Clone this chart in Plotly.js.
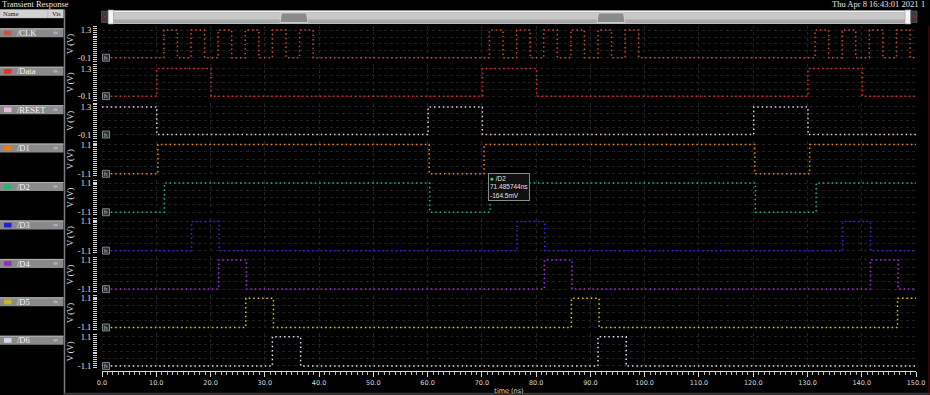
<!DOCTYPE html>
<html>
<head>
<meta charset="utf-8">
<script src="https://cdn.plot.ly/plotly-3.0.1.min.js"></script>
<style>
html,body{margin:0;padding:0;background:#000;}
#chart{width:930px;height:395px;}
</style>
</head>
<body>
<div id="chart"></div>
<script>
// ---------- data ----------
const signalNames = ['/CLK', '/Data', '/RESET', '/D1', '/D2', '/D3', '/D4', '/D5', '/D6'];
const topTickLabels = ['1.3', '1.3', '1.3', '1.1', '1.1', '1.1', '1.1', '1.1', '1.1'];
const bottomTickLabels = ['-0.1', '-0.1', '-0.1', '-1.1', '-1.1', '-1.1', '-1.1', '-1.1', '-1.1'];
const xTickValues = [0, 10, 20, 30, 40, 50, 60, 70, 80, 90, 100, 110, 120, 130, 140, 150];

const clkTime = [0, 11.4, 13.9, 16.4, 18.9, 21.4, 23.9, 26.4, 28.9, 31.4, 33.9, 36.4, 38.9,
                 71.4, 73.9, 76.4, 78.9, 81.4, 83.9, 86.4, 88.9, 91.4, 93.9, 96.4, 98.9,
                 131.4, 133.9, 136.4, 138.9, 141.4, 143.9, 146.4, 148.9, 150];
const clkVolt = [-0.1, 1.3, -0.1, 1.3, -0.1, 1.3, -0.1, 1.3, -0.1, 1.3, -0.1, 1.3, -0.1,
                 1.3, -0.1, 1.3, -0.1, 1.3, -0.1, 1.3, -0.1, 1.3, -0.1, 1.3, -0.1,
                 1.3, -0.1, 1.3, -0.1, 1.3, -0.1, 1.3, -0.1, -0.1];
const dataTime = [0, 10.1, 20.1, 70.1, 80.1, 130.1, 140.1, 150];
const dataVolt = [-0.1, 1.3, -0.1, 1.3, -0.1, 1.3, -0.1, -0.1];
const resetTime = [0, 10.1, 60.1, 70.1, 120.1, 130.1, 150];
const resetVolt = [1.3, -0.1, 1.3, -0.1, 1.3, -0.1, -0.1];
const d1Time = [0, 10.3, 60.3, 70.4, 120.3, 130.4, 150];
const d1Volt = [-1.1, 1.1, -1.1, 1.1, -1.1, 1.1, 1.1];
const d2Time = [0, 11.5, 60.4, 71.5, 120.4, 131.6, 150];
const d2Volt = [-1.1, 1.1, -1.1, 1.1, -1.1, 1.1, 1.1];
const d3Time = [0, 16.5, 21.6, 76.5, 81.6, 136.5, 141.6, 150];
const d3Volt = [-1.1, 1.1, -1.1, 1.1, -1.1, 1.1, -1.1, -1.1];
const d4Time = [0, 21.5, 26.6, 81.5, 86.6, 141.6, 146.7, 150];
const d4Volt = [-1.1, 1.1, -1.1, 1.1, -1.1, 1.1, -1.1, -1.1];
const d5Time = [0, 26.5, 31.6, 86.5, 91.6, 146.6, 150];
const d5Volt = [-1.1, 1.1, -1.1, 1.1, -1.1, 1.1, 1.1];
const d6Time = [0, 31.4, 36.6, 91.4, 96.6, 150];
const d6Volt = [-1.1, 1.1, -1.1, 1.1, -1.1, -1.1];

const cursorTime = 71.485744;
const cursorVolt = -0.1645;
const cursorText = ['/D2', '71.485744ns', '-164.5mV'];

// ---------- styling ----------
const signalColors = ['#d24a2a', '#e82a2a', '#eac2ea', '#f08a1e', '#1fba74', '#2a2af2', '#a232e2', '#d8c81e', '#d8e0f8'];
const swatchColors = ['#c05a48', '#e03030', '#ecb8dc', '#e08020', '#30b070', '#2020d0', '#9030c0', '#c8b820', '#d0d8f0'];
const times = [clkTime, dataTime, resetTime, d1Time, d2Time, d3Time, d4Time, d5Time, d6Time];
const volts = [clkVolt, dataVolt, resetVolt, d1Volt, d2Volt, d3Volt, d4Volt, d5Volt, d6Volt];

const ML = 102, MR = 14, MT = 24, MB = 24, W = 930, H = 395;
const PW = W - ML - MR, PH = H - MT - MB;
const fx = p => (p - ML) / PW;
const fy = p => (H - MB - p) / PH;
const centers = signalNames.map((_, i) => 43.9 + 38.43 * i);
const HALF = 18;

const traces = [];
const layout = {
  width: W, height: H,
  margin: {l: ML, r: MR, t: MT, b: MB, pad: 0},
  paper_bgcolor: '#000', plot_bgcolor: '#000',
  showlegend: false,
  font: {family: 'Liberation Serif', color: '#e0e0e0', size: 9},
  xaxis: {
    range: [0, 150], anchor: 'free', position: 0,
    showline: true, linecolor: '#d8d8d8', linewidth: 1,
    ticks: 'outside', ticklen: 5, tickcolor: '#d8d8d8',
    tickmode: 'array', tickvals: xTickValues, tickformat: '.1f',
    tickfont: {family: 'DejaVu Sans', size: 6.5, color: '#d8d8d8'},
    minor: {ticks: 'outside', ticklen: 3, tickmode: 'linear', tick0: 0, dtick: 1, tickcolor: '#bbbbbb', showgrid: false},
    showgrid: true, gridcolor: '#222222', griddash: 'dot', gridwidth: 1,
    zeroline: false,
    title: {text: 'time (ns)', font: {family: 'DejaVu Sans', size: 6.5, color: '#d8d8d8'}, standoff: 2}
  },
  shapes: [], annotations: []
};

signalNames.forEach((name, i) => {
  const c = centers[i];
  const isLogic = i < 3;
  const lo = isLogic ? -0.1 : -1.1, hi = isLogic ? 1.3 : 1.1;
  const amp = isLogic ? 13.8 : 14.6;
  const k = (2 * amp) / (hi - lo);
  const mid = (hi + lo) / 2;
  const half = HALF / k;
  const axName = i === 0 ? 'yaxis' : 'yaxis' + (i + 1);
  const ref = i === 0 ? 'y' : 'y' + (i + 1);
  const step = (hi - lo) / 4;
  // dense ruler tick marks along the strip
  const rulerStep = isLogic ? 0.1 : 0.15;
  const rulerVals = [], rulerText = [];
  for (let v = lo - 2 * rulerStep; v <= mid + half + 1e-9; v += rulerStep) {
    const r = Math.round(v * 1000) / 1000;
    if (r < mid - half) continue;
    rulerVals.push(r);
    rulerText.push(Math.abs(r - lo) < 1e-6 ? bottomTickLabels[i] : (Math.abs(r - hi) < 1e-6 ? topTickLabels[i] : ''));
  }
  if (rulerVals.indexOf(Math.round(hi * 1000) / 1000) < 0) { rulerVals.push(hi); rulerText.push(topTickLabels[i]); }
  layout[axName] = {
    domain: [fy(c + HALF), fy(c - HALF)],
    range: [mid - half, mid + half],
    anchor: 'free', position: 0, shift: -5,
    tickmode: 'array', tickvals: rulerVals, ticktext: rulerText,
    ticks: 'outside', ticklen: 4, tickcolor: '#d4d4d4', tickwidth: 1,
    tickfont: {family: 'Liberation Serif', size: 8.5, color: '#e0e0e0'},
    showgrid: false,
    minor: {tickmode: 'array', tickvals: [lo, lo + step, lo + 2 * step, lo + 3 * step, hi], ticks: '',
            showgrid: true, gridcolor: '#202020', griddash: 'dot', gridwidth: 1},
    showline: false, zeroline: false,
    fixedrange: true
  };
  traces.push({
    type: 'scatter', mode: 'lines', name: name,
    x: times[i], y: volts[i], xaxis: 'x', yaxis: ref,
    line: {shape: 'hv', color: signalColors[i], width: 1.5, dash: '1.5px,2.9px'},
    hoverinfo: 'skip'
  });

  // y-axis title
  layout.annotations.push({
    xref: 'paper', yref: 'paper', x: fx(70), y: fy(c), text: 'V (V)', textangle: -90,
    showarrow: false, font: {family: 'Liberation Serif', size: 8.5, color: '#e0e0e0'},
    xanchor: 'center', yanchor: 'middle'
  });

  // name row in the left panel
  const rt = c - 15.6;
  layout.shapes.push({type: 'rect', xref: 'paper', yref: 'paper', x0: fx(0), x1: fx(63.5), y0: fy(rt + 9), y1: fy(rt),
    fillcolor: '#8a8a8a', line: {width: 0}});
  layout.shapes.push({type: 'line', xref: 'paper', yref: 'paper', x0: fx(0), x1: fx(63.5), y0: fy(rt + 0.5), y1: fy(rt + 0.5),
    line: {color: '#b4b4b4', width: 1}});
  layout.shapes.push({type: 'rect', xref: 'paper', yref: 'paper', x0: fx(4), x1: fx(11.5), y0: fy(rt + 7), y1: fy(rt + 2.3),
    fillcolor: swatchColors[i], line: {width: 0}});
  layout.shapes.push({type: 'circle', xref: 'paper', yref: 'paper', x0: fx(53), x1: fx(58), y0: fy(rt + 6), y1: fy(rt + 3.2),
    fillcolor: '#9fb0c8', line: {width: 0}});
  layout.annotations.push({
    xref: 'paper', yref: 'paper', x: fx(14.5), y: fy(rt + 4.7), text: name, showarrow: false,
    xanchor: 'left', yanchor: 'middle', font: {family: 'Liberation Serif', size: 8.5, color: '#f2f2f2'}
  });

  // small marker box at the left of each strip
  const ly = c + amp;
  layout.shapes.push({type: 'rect', xref: 'paper', yref: 'paper', x0: fx(102.5), x1: fx(109.5), y0: fy(ly + 3.5), y1: fy(ly - 3.5),
    fillcolor: '#2e2e2e', line: {color: '#9a9a9a', width: 0.8}});
  layout.annotations.push({
    xref: 'paper', yref: 'paper', x: fx(106), y: fy(ly), text: 'h', showarrow: false,
    xanchor: 'center', yanchor: 'middle', font: {family: 'DejaVu Sans', size: 5.5, color: '#cfcfcf'}
  });
});

// ---- panel, header, scrollbar decorations ----
const S = layout.shapes, A = layout.annotations;
S.push({type: 'rect', xref: 'paper', yref: 'paper', x0: fx(0), x1: fx(48), y0: fy(18), y1: fy(9.5), fillcolor: '#d2d2d2', line: {color: '#a8a8a8', width: 0.5}});
S.push({type: 'rect', xref: 'paper', yref: 'paper', x0: fx(48), x1: fx(63.5), y0: fy(18), y1: fy(9.5), fillcolor: '#d2d2d2', line: {color: '#a8a8a8', width: 0.5}});
S.push({type: 'line', xref: 'paper', yref: 'paper', x0: fx(64.5), x1: fx(64.5), y0: fy(9.5), y1: fy(395), line: {color: '#7c7c7c', width: 1.5}});
S.push({type: 'line', xref: 'paper', yref: 'paper', x0: fx(64), x1: fx(930), y0: fy(393.8), y1: fy(393.8), line: {color: '#3a3a3a', width: 2}});
S.push({type: 'line', xref: 'paper', yref: 'paper', x0: fx(928.8), x1: fx(928.8), y0: fy(26), y1: fy(395), line: {color: '#4a1414', width: 1}});
A.push({xref: 'paper', yref: 'paper', x: fx(1), y: fy(13.8), text: 'Name', showarrow: false, xanchor: 'left', yanchor: 'middle', font: {family: 'Liberation Serif', size: 6.5, color: '#202020'}});
A.push({xref: 'paper', yref: 'paper', x: fx(50), y: fy(13.8), text: 'Vis', showarrow: false, xanchor: 'left', yanchor: 'middle', font: {family: 'Liberation Serif', size: 6.5, color: '#202020'}});
A.push({xref: 'paper', yref: 'paper', x: fx(0), y: fy(4.2), text: 'Transient Response', showarrow: false, xanchor: 'left', yanchor: 'middle', font: {family: 'Liberation Serif', size: 8.5, color: '#e6e6e6'}});
A.push({xref: 'paper', yref: 'paper', x: fx(920), y: fy(4.2), text: 'Thu Apr 8 16:43:01 2021', showarrow: false, xanchor: 'right', yanchor: 'middle', font: {family: 'Liberation Serif', size: 8.5, color: '#e6e6e6'}});
A.push({xref: 'paper', yref: 'paper', x: fx(927), y: fy(4.2), text: '1', showarrow: false, xanchor: 'right', yanchor: 'middle', font: {family: 'Liberation Serif', size: 8.5, color: '#e6e6e6'}});

// scrollbar
S.push({type: 'rect', xref: 'paper', yref: 'paper', x0: fx(108), x1: fx(911), y0: fy(24), y1: fy(10), fillcolor: '#6e6e6e', line: {width: 0}});
S.push({type: 'rect', xref: 'paper', yref: 'paper', x0: fx(108), x1: fx(911), y0: fy(22.5), y1: fy(11), fillcolor: '#a9a9a9', line: {width: 0}});
S.push({type: 'rect', xref: 'paper', yref: 'paper', x0: fx(108), x1: fx(911), y0: fy(19.5), y1: fy(12.3), fillcolor: '#c8c8c8', line: {width: 0}});
S.push({type: 'line', xref: 'paper', yref: 'paper', x0: fx(108), x1: fx(911), y0: fy(11.3), y1: fy(11.3), line: {color: '#f2f2f2', width: 1.2}});
S.push({type: 'line', xref: 'paper', yref: 'paper', x0: fx(108), x1: fx(911), y0: fy(23.2), y1: fy(23.2), line: {color: '#e0e0e0', width: 1}});
[[280, 308], [597, 625]].forEach(([a, b]) => {
  S.push({type: 'path', xref: 'paper', yref: 'paper',
    path: `M ${fx(a)} ${fy(22.5)} L ${fx(a + 1.5)} ${fy(13)} L ${fx(b - 1.5)} ${fy(13)} L ${fx(b)} ${fy(22.5)} Z`,
    fillcolor: '#8a8a8a', line: {color: '#d8d8d8', width: 0.8}});
});
S.push({type: 'rect', xref: 'paper', yref: 'paper', x0: fx(101.5), x1: fx(108.3), y0: fy(22.5), y1: fy(11), fillcolor: '#3a3a3a', line: {color: '#777', width: 0.5}});
S.push({type: 'circle', xref: 'paper', yref: 'paper', x0: fx(104), x1: fx(106), y0: fy(17.8), y1: fy(15.8), fillcolor: '#e01010', line: {width: 0}});
S.push({type: 'rect', xref: 'paper', yref: 'paper', x0: fx(108.3), x1: fx(113.5), y0: fy(24), y1: fy(10), fillcolor: '#f4f4f4', line: {color: '#9a9a9a', width: 0.6}});
S.push({type: 'rect', xref: 'paper', yref: 'paper', x0: fx(905), x1: fx(910.7), y0: fy(24), y1: fy(10), fillcolor: '#f4f4f4', line: {color: '#9a9a9a', width: 0.6}});
S.push({type: 'rect', xref: 'paper', yref: 'paper', x0: fx(910.7), x1: fx(917), y0: fy(22.5), y1: fy(11), fillcolor: '#3a3a3a', line: {color: '#777', width: 0.5}});
S.push({type: 'circle', xref: 'paper', yref: 'paper', x0: fx(912.8), x1: fx(914.8), y0: fy(17.3), y1: fy(15.3), fillcolor: '#e01010', line: {width: 0}});

// cursor readout on /D2
A.push({
  xref: 'x', yref: 'y5', x: cursorTime, y: cursorVolt,
  text: '<span style="color:#2ee05a">●</span> ' + cursorText[0] + '<br>' + cursorText[1] + '<br>' + cursorText[2],
  showarrow: true, arrowhead: 0, arrowcolor: '#9a9a9a', arrowwidth: 1, standoff: 0,
  ax: 19, ay: -13, align: 'left',
  font: {family: 'Liberation Sans', size: 6.5, color: '#e0e0e0'},
  bgcolor: '#101010', bordercolor: '#8a8a8a', borderwidth: 1, borderpad: 1
});

Plotly.newPlot('chart', traces, layout, {displayModeBar: false, staticPlot: true});
</script>
</body>
</html>
